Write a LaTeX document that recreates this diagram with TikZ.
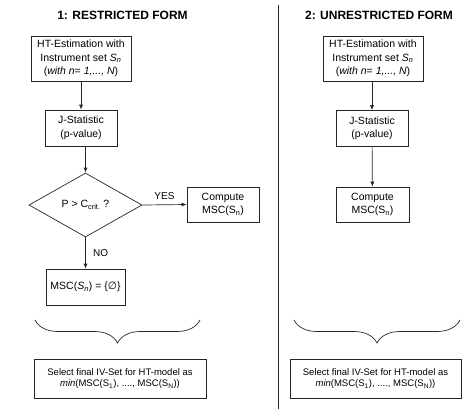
\documentclass[tikz,border=0pt]{standalone}
\usepackage{fontspec}
\setmainfont{Liberation Sans}
\newfontfamily\symfont{DejaVu Sans}
\usetikzlibrary{shapes.geometric,arrows.meta,decorations.pathreplacing}
\begin{document}
\begin{tikzpicture}[x=1pt,y=-1pt,
  box/.style={draw=black!85,line width=0.7pt,inner sep=0pt,align=center,font=\fontsize{10.5}{13.5}\selectfont},
  lowbox/.style={draw=black!85,line width=0.7pt,inner sep=0pt,align=center,font=\fontsize{9.5}{11.5}\selectfont},
  dia/.style={draw=black!85,line width=0.7pt,diamond,aspect=1.77,inner sep=0pt,minimum width=113pt,minimum height=64pt,font=\fontsize{10.5}{12}\selectfont},
  arr/.style={draw=black!85,line width=0.7pt,-{Latex[length=5pt,width=4pt]}},
  lbl/.style={font=\fontsize{10}{12}\selectfont},
  ttl/.style={font=\bfseries\fontsize{12}{14}\selectfont},
  brc/.style={draw=black!85,line width=0.7pt,decorate,decoration={brace,amplitude=23pt}}]
\useasboundingbox (0,0) rectangle (474,416);
% titles
\node[ttl] (t1) at (122.5,15) {1: RESTRICTED FORM};
\node[ttl] (t2) at (379,15) {2: UNRESTRICTED FORM};
% divider
\coordinate (dtop) at (278,5);
\coordinate (dbot) at (278,409);
\draw[black!85,line width=0.8pt] (dtop) -- (dbot);
% left column
\node[box,minimum width=100pt,minimum height=45pt] (l1) at (81,58.5)
  {HT-Estimation with\\Instrument set \textit{S}\textsubscript{\textit{n}}\\(\textit{with n}= \textit{1,..., N})};
\node[box,minimum width=72pt,minimum height=36pt] (lj) at (81,128) {J-Statistic\\(p-value)};
\node[dia] (ld) at (85.5,205) {P > C\textsubscript{crit.} ?};
\node[box,minimum width=72pt,minimum height=35pt] (lc) at (223,204.5) {Compute\\MSC(S\textsubscript{n})};
\node[box,minimum width=79pt,minimum height=36pt] (le) at (85.5,287) {MSC(\textit{S}\textsubscript{\textit{n}}) = \{{\symfont\itshape ∅}\}};
\node[lowbox,minimum width=172pt,minimum height=39pt] (lb) at (120,378.5)
  {Select final IV-Set for HT-model as\\\textit{min}(MSC(S\textsubscript{1}), ...., MSC(S\textsubscript{N}))};
\draw[arr] (l1) -- (lj);
\draw[arr] (lj.south -| ld.north) -- (ld.north);
\draw[arr] (ld.east) -- node[lbl,above=1pt] (yes) {YES} (lc.west);
\draw[arr] (ld.south) -- node[lbl,right=4pt] (no) {NO} (le.north);
\coordinate (lbr1) at (200,320);
\coordinate (lbr2) at (35,320);
\draw[brc] (lbr1) -- (lbr2);
% right column
\node[box,minimum width=100pt,minimum height=45pt] (r1) at (373,58.5)
  {HT-Estimation with\\Instrument set \textit{S}\textsubscript{\textit{n}}\\(\textit{with n}= \textit{1,..., N})};
\node[box,minimum width=72pt,minimum height=36pt] (rj) at (372,128.5) {J-Statistic\\(p-value)};
\node[box,minimum width=73pt,minimum height=35pt] (rc) at (372.5,204.5) {Compute\\MSC(S\textsubscript{n})};
\node[lowbox,minimum width=171pt,minimum height=39pt] (rb) at (375.5,378.5)
  {Select final IV-Set for HT-model as\\\textit{min}(MSC(S\textsubscript{1}), ...., MSC(S\textsubscript{N}))};
\draw[arr] (r1.south -| rj.north) -- (rj.north);
\draw[arr] (rj) -- (rc);
\coordinate (rbr1) at (460,320);
\coordinate (rbr2) at (294,320);
\draw[brc] (rbr1) -- (rbr2);
\end{tikzpicture}
\end{document}
